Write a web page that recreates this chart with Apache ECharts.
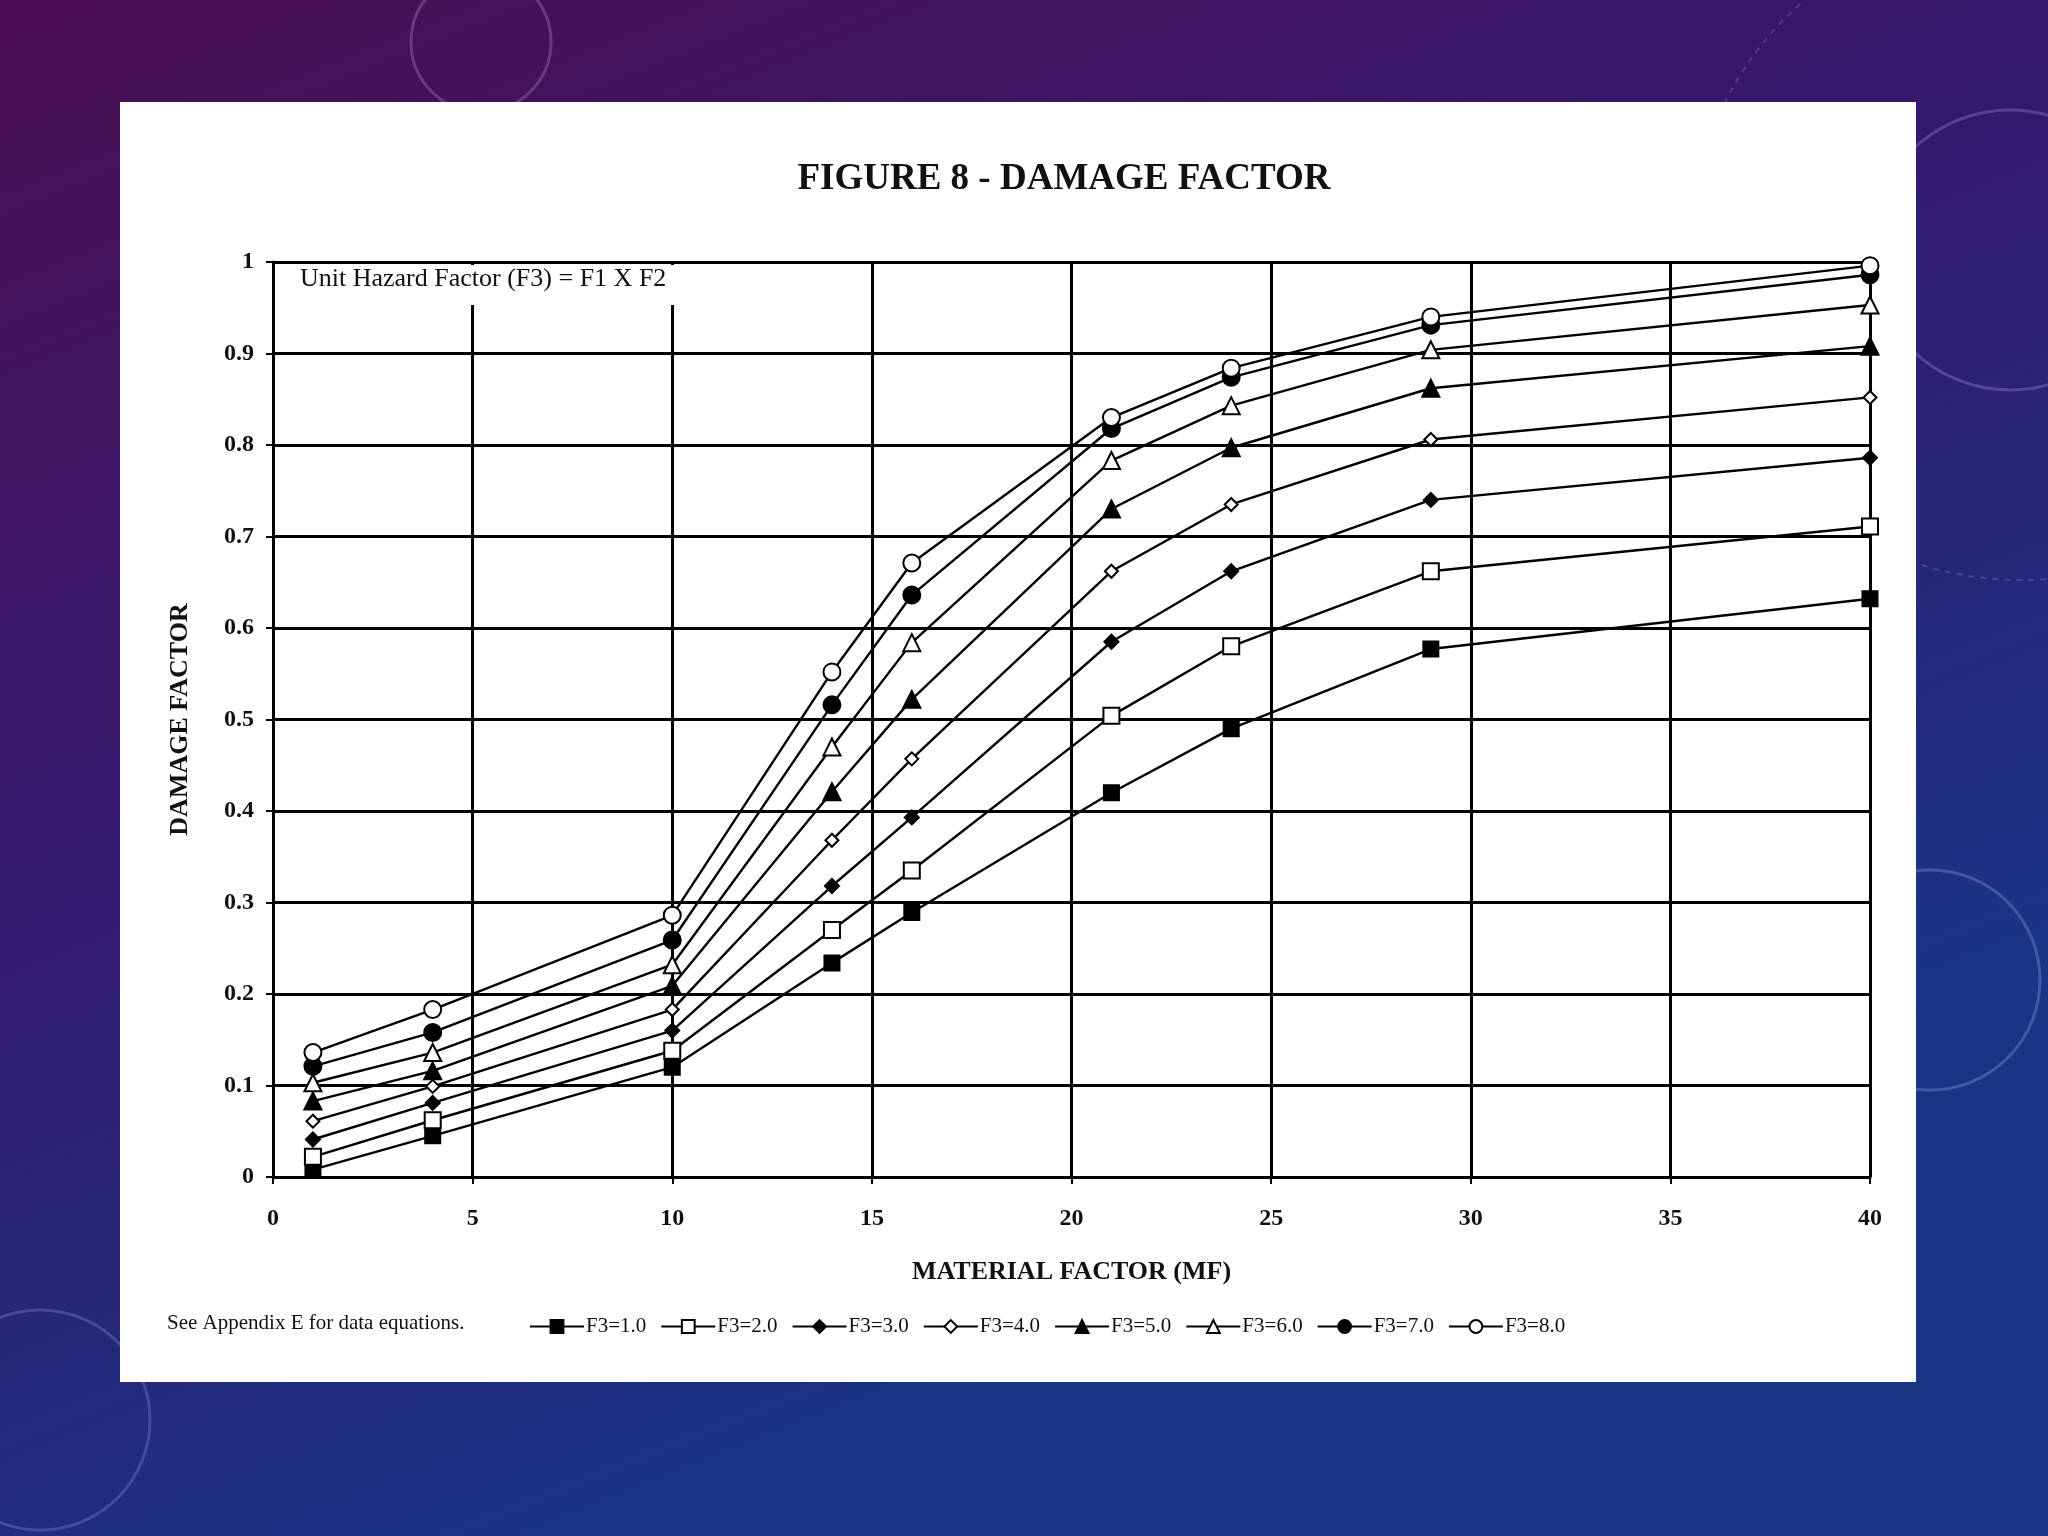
<!DOCTYPE html>
<html>
<head>
<meta charset="utf-8">
<title>Figure 8 - Damage Factor</title>
<script src="https://cdn.jsdelivr.net/npm/echarts@6/dist/echarts.min.js"></script>
<style>
  html, body { margin: 0; padding: 0; }
  #chart { width: 2048px; height: 1536px; }
</style>
</head>
<body>
<div id="chart"></div>
<script>
// material factor (MF) values where the curves are sampled
const materialFactor = [1, 4, 10, 14, 16, 21, 24, 29, 40]

// damage factor per unit hazard factor F3
const f3_1 = [0.008, 0.045, 0.12, 0.234, 0.289, 0.42, 0.49, 0.577, 0.632]
const f3_2 = [0.022, 0.062, 0.138, 0.27, 0.335, 0.504, 0.58, 0.662, 0.711]
const f3_3 = [0.041, 0.081, 0.16, 0.318, 0.393, 0.585, 0.662, 0.74, 0.786]
const f3_4 = [0.061, 0.099, 0.183, 0.368, 0.457, 0.662, 0.735, 0.806, 0.852]
const f3_5 = [0.083, 0.116, 0.209, 0.421, 0.522, 0.73, 0.797, 0.862, 0.908]
const f3_6 = [0.103, 0.136, 0.232, 0.47, 0.584, 0.783, 0.843, 0.904, 0.953]
const f3_7 = [0.121, 0.158, 0.259, 0.516, 0.636, 0.818, 0.874, 0.931, 0.986]
const f3_8 = [0.136, 0.183, 0.286, 0.552, 0.671, 0.83, 0.884, 0.94, 0.996]

const seriesNames = ['F3=1.0', 'F3=2.0', 'F3=3.0', 'F3=4.0', 'F3=5.0', 'F3=6.0', 'F3=7.0', 'F3=8.0']
const seriesValues = [f3_1, f3_2, f3_3, f3_4, f3_5, f3_6, f3_7, f3_8]
const symbols = ['rect', 'emptyRect', 'diamond', 'emptyDiamond', 'triangle', 'emptyTriangle', 'circle', 'emptyCircle']
const symbolSizes = [15, 16, 14, 13, 17, 17, 17, 17]

const serif = '"Liberation Serif", "DejaVu Serif", serif'

let series = seriesValues.map(function (values, i) {
  return {
    name: seriesNames[i],
    type: 'line',
    data: values.map(function (v, j) { return [materialFactor[j], v] }),
    symbol: symbols[i],
    symbolSize: symbolSizes[i],
    showAllSymbol: true,
    color: '#000',
    lineStyle: { color: '#000', width: 2.4 },
    itemStyle: { color: '#000', borderColor: '#000', borderWidth: 2 },
    emphasis: { disabled: true },
    animation: false,
    z: 3,
  }
})

let option = {
  backgroundColor: {
    type: 'linear', x: 0, y: 0, x2: 0.3, y2: 1,
    colorStops: [
      { offset: 0, color: '#4b0f52' },
      { offset: 0.5, color: '#33196e' },
      { offset: 1, color: '#1b3585' },
    ],
  },
  animation: false,
  grid: { left: 273, right: 178, top: 262, bottom: 359 },
  xAxis: {
    type: 'value',
    min: 0,
    max: 40,
    interval: 5,
    name: 'MATERIAL FACTOR (MF)',
    nameLocation: 'middle',
    nameGap: 82,
    nameTextStyle: { fontFamily: serif, fontWeight: 'bold', fontSize: 26, color: '#111' },
    axisLine: { lineStyle: { color: '#000', width: 3 } },
    axisTick: { show: true, length: 7, lineStyle: { color: '#000', width: 2 } },
    axisLabel: { fontFamily: serif, fontWeight: 'bold', fontSize: 24, color: '#111', margin: 30 },
    splitLine: { show: true, lineStyle: { color: '#000', width: 3 } },
  },
  yAxis: {
    type: 'value',
    min: 0,
    max: 1,
    interval: 0.1,
    name: 'DAMAGE FACTOR',
    nameLocation: 'middle',
    nameRotate: 90,
    nameGap: 80,
    nameTextStyle: { fontFamily: serif, fontWeight: 'bold', fontSize: 26, color: '#111' },
    axisLine: { show: true, lineStyle: { color: '#000', width: 3 } },
    axisTick: { show: true, length: 7, lineStyle: { color: '#000', width: 2 } },
    axisLabel: { fontFamily: serif, fontWeight: 'bold', fontSize: 24, color: '#111', margin: 19 },
    splitLine: { show: true, lineStyle: { color: '#000', width: 3 } },
  },
  legend: {
    data: seriesNames,
    left: 524,
    top: 1311,
    itemWidth: 54,
    itemHeight: 16,
    itemGap: 14,
    textStyle: { fontFamily: serif, fontSize: 21, color: '#111', padding: [0, 0, 0, -3] },
    selectedMode: false,
  },
  graphic: [
    // faint slide decorations
    { type: 'circle', z: -20, shape: { cx: 481, cy: 42, r: 70 }, style: { fill: 'none', stroke: 'rgba(190,150,220,0.3)', lineWidth: 3 } },
    { type: 'circle', z: -20, shape: { cx: 2010, cy: 250, r: 140 }, style: { fill: 'none', stroke: 'rgba(190,150,220,0.3)', lineWidth: 3 } },
    { type: 'circle', z: -20, shape: { cx: 2020, cy: 250, r: 330 }, style: { fill: 'none', stroke: 'rgba(190,150,220,0.22)', lineWidth: 2, lineDash: [6, 6] } },
    { type: 'circle', z: -20, shape: { cx: 1930, cy: 980, r: 110 }, style: { fill: 'none', stroke: 'rgba(160,170,230,0.3)', lineWidth: 3 } },
    { type: 'circle', z: -20, shape: { cx: 40, cy: 1420, r: 110 }, style: { fill: 'none', stroke: 'rgba(160,170,230,0.25)', lineWidth: 3 } },
    // white page of the scanned figure
    { type: 'rect', z: -10, shape: { x: 120, y: 102, width: 1796, height: 1280 }, style: { fill: '#fff' } },
    {
      type: 'text', z: 11, x: 1064, y: 179,
      style: {
        text: 'FIGURE 8 - DAMAGE FACTOR', fontFamily: serif, fontWeight: 'bold', fontSize: 37,
        fill: '#111', align: 'center', verticalAlign: 'middle',
      },
    },
    // annotation box in the top-left of the plot
    { type: 'rect', z: 10, shape: { x: 276, y: 265, width: 410, height: 40 }, style: { fill: '#fff' } },
    {
      type: 'text', z: 11, left: 300, top: 266,
      style: { text: 'Unit Hazard Factor (F3) = F1 X F2', fontFamily: serif, fontSize: 26, fill: '#111' },
    },
    {
      type: 'text', z: 11, left: 167, top: 1313,
      style: { text: 'See Appendix E for data equations.', fontFamily: serif, fontSize: 21, fill: '#111' },
    },
  ],
  series: series,
}

let chartDom = document.getElementById('chart')
let myChart = echarts.init(chartDom)
myChart.setOption(option)
</script>
</body>
</html>
